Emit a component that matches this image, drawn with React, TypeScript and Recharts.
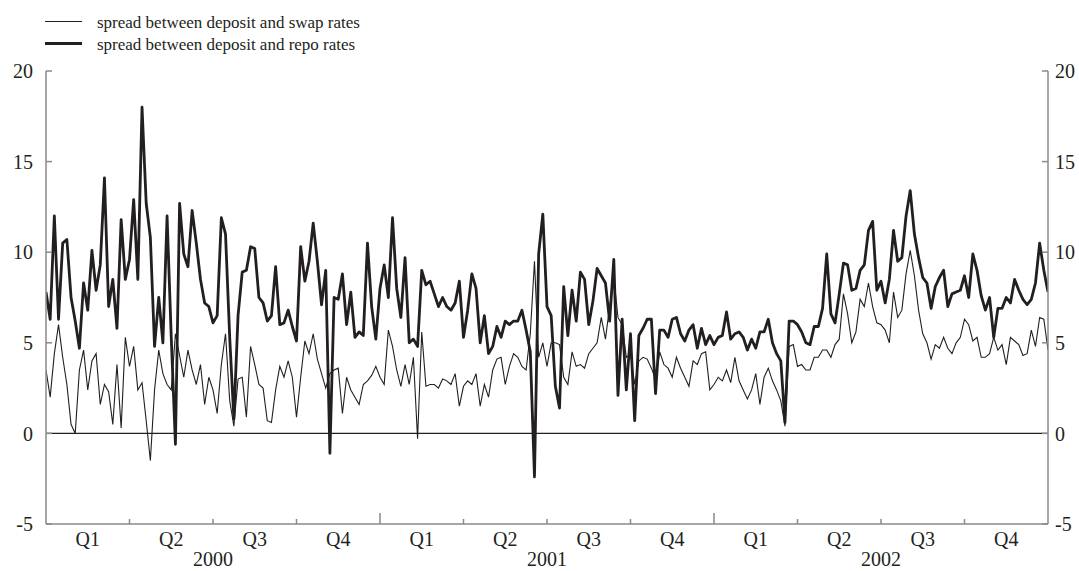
import React from 'react';
import { LineChart, Line, XAxis, YAxis, ReferenceLine } from 'recharts';

// roughly 20 readings per quarter, Q1 2000 .. Q4 2002 (241 points)
const swapSpread = [
  3.5, 2.0, 4.4, 6.0, 4.2, 2.7, 0.5, 0.0, 3.5, 4.6, 2.4, 4.0, 4.4, 1.6, 2.7, 2.3, 0.5, 3.8, 0.3, 5.3,
  3.7, 4.8, 2.4, 2.8, 0.7, -1.5, 2.4, 4.6, 3.3, 2.7, 2.4, 5.5, 4.3, 3.1, 4.6, 3.5, 2.7, 3.8, 1.6, 3.1,
  2.4, 1.1, 3.8, 5.5, 1.8, 0.4, 3.0, 3.1, 0.9, 4.8, 3.8, 2.7, 2.5, 0.7, 0.6, 2.4, 3.7, 3.1, 4.0, 3.1,
  0.9, 3.1, 5.1, 4.4, 5.5, 4.1, 3.3, 2.5, 3.3, 3.5, 3.6, 1.1, 3.1, 2.4, 2.0, 1.6, 2.7, 2.9,
  3.2, 3.7, 3.1, 2.7, 5.7, 4.8, 3.5, 2.6, 3.8, 2.7, 4.2, -0.3, 5.6, 2.6, 2.7, 2.7, 2.5, 3.0, 2.9, 2.7,
  3.3, 1.5, 2.6, 2.9, 2.7, 3.3, 1.5, 2.7, 2.0, 3.5, 4.1, 4.2, 2.7, 3.7, 4.4, 4.2, 3.7, 3.5,
  5.5, 9.5, 4.2, 5.0, 3.7, 5.0, 5.0, 4.9, 3.1, 2.7, 4.5, 3.7, 3.8, 3.6, 4.4, 4.7, 5.0, 6.4, 5.2, 7.0,
  8.6, 6.4, 6.0, 4.2, 4.4, 2.7, 4.0, 4.2, 4.1, 3.6, 3.0, 4.5, 3.8, 3.6, 3.1, 4.2, 3.6, 3.1, 2.6,
  4.0, 3.8, 4.4, 4.5, 2.4, 2.7, 3.1, 2.9, 3.5, 2.8, 4.2, 2.9, 2.4, 1.9, 2.4, 3.3, 1.6, 3.1, 3.6, 2.9,
  2.4, 1.8, 0.4, 4.8, 4.9, 3.7, 3.8, 3.5, 3.5, 4.2, 4.2, 4.6, 4.6, 4.2, 4.9, 5.2, 7.7, 6.6,
  5.0, 5.6, 7.4, 7.0, 8.3, 7.0, 6.1, 6.0, 5.7, 5.0, 7.8, 6.4, 6.8, 8.8, 10.1, 8.7, 6.8, 5.5, 5.0, 4.1,
  4.9, 4.7, 5.3, 4.7, 4.4, 5.0, 5.3, 6.3, 6.0, 5.1, 5.3, 4.2, 4.2, 4.4, 5.3, 4.6, 4.9, 3.8, 5.3, 5.1,
  4.9, 4.3, 4.4, 5.7, 4.8, 6.4, 6.3, 4.6,
];

const repoSpread = [
  7.8, 6.3, 12.0, 6.3, 10.5, 10.7, 7.5, 6.2, 4.7, 8.3, 6.8, 10.1, 7.9, 9.3, 14.1, 7.0, 8.5, 5.8, 11.8, 8.5,
  9.6, 12.9, 8.5, 18.0, 12.7, 10.8, 4.8, 7.5, 5.0, 12.0, 5.3, -0.6, 12.7, 9.9, 9.2, 12.3, 10.5, 8.5, 7.2, 7.0,
  6.1, 6.5, 11.9, 11.0, 5.3, 0.8, 6.5, 8.9, 9.0, 10.3, 10.2, 7.5, 7.2, 6.2, 6.5, 9.2, 6.0, 6.1, 6.8, 5.9,
  5.1, 10.3, 8.4, 9.5, 11.6, 9.5, 7.1, 9.0, -1.1, 7.5, 7.4, 8.8, 6.0, 7.8, 5.3, 5.6, 5.4, 10.5,
  7.0, 5.2, 8.0, 9.3, 7.5, 11.9, 8.0, 6.4, 9.7, 5.0, 5.2, 4.8, 9.0, 8.2, 8.4, 7.7, 7.0, 7.5, 7.0, 6.8,
  7.2, 8.4, 5.3, 6.8, 8.8, 8.0, 5.0, 6.5, 4.4, 4.8, 5.9, 5.3, 6.2, 6.0, 6.2, 6.2, 6.8, 5.7,
  4.5, -2.4, 9.9, 12.1, 7.0, 6.5, 2.6, 1.4, 8.1, 5.4, 7.9, 6.2, 8.9, 8.5, 6.0, 7.3, 9.1, 8.7, 8.3, 6.2,
  9.6, 2.1, 6.3, 2.4, 5.5, 0.7, 5.4, 5.8, 6.3, 6.3, 2.2, 5.7, 5.7, 5.3, 6.3, 6.4, 5.5, 5.1, 5.7,
  6.0, 4.7, 5.8, 4.9, 5.4, 4.9, 5.3, 5.4, 6.7, 5.2, 5.5, 5.6, 5.3, 4.6, 5.2, 4.7, 5.6, 5.6, 6.3, 5.0,
  4.4, 4.0, 0.6, 6.2, 6.2, 6.0, 5.6, 5.0, 4.9, 5.9, 5.9, 6.9, 9.9, 6.6, 6.1, 7.7, 9.4, 9.3,
  7.9, 8.0, 9.0, 9.3, 11.2, 11.7, 7.9, 8.4, 7.2, 8.5, 11.2, 9.5, 9.7, 12.0, 13.4, 11.0, 9.7, 8.6, 8.3, 6.9,
  8.1, 8.6, 9.0, 7.0, 7.7, 7.8, 7.9, 8.7, 7.5, 9.9, 9.0, 7.6, 6.8, 7.5, 5.3, 6.9, 6.9, 7.5, 7.2, 8.5,
  7.9, 7.4, 7.1, 7.4, 8.3, 10.5, 9.0, 7.8,
];

const seriesNames = ['spread between deposit and swap rates', 'spread between deposit and repo rates'];
const quarterLabels = ['Q1', 'Q2', 'Q3', 'Q4'];
const yearLabels = ['2000', '2001', '2002'];
const yTicks = [-5, 0, 5, 10, 15, 20];

const STEPS_PER_QUARTER = 20;
const LAST = yearLabels.length * 4 * STEPS_PER_QUARTER;

const data = repoSpread.map((repo, i) => ({ i, swap: swapSpread[i], repo }));

const quarterBounds: number[] = [];
const quarterMids: number[] = [];
for (let q = 0; q < yearLabels.length * 4; q++) {
  if (q > 0 && q % 4 !== 0) quarterBounds.push(q * STEPS_PER_QUARTER);
  quarterMids.push((q + 0.5) * STEPS_PER_QUARTER);
}
const yearBounds = yearLabels.slice(1).map((_, k) => (k + 1) * 4 * STEPS_PER_QUARTER);
const yearMids = yearLabels.map((_, k) => (k + 0.5) * 4 * STEPS_PER_QUARTER);

const INK = '#231f20';
const AXIS = '#8a8a8a';
const FONT = '"Liberation Serif", "Times New Roman", serif';
const tickText = { fill: INK, fontSize: 20, fontFamily: FONT };
// bottom axes are stacked; keep them (almost) zero-height so they all sit on the plot edge
const THIN = 0.01;

function Legend() {
  const rows = [
    { name: seriesNames[0], width: 1.2, top: 10.5 },
    { name: seriesNames[1], width: 3, top: 33 },
  ];
  return (
    <>
      {rows.map((r) => (
        <div key={r.name} style={{ position: 'absolute', left: 0, top: r.top, height: 23, width: 500 }}>
          <svg width={40} height={23} style={{ position: 'absolute', left: 45, top: 0 }}>
            <line x1={0} x2={37} y1={10.5} y2={10.5} stroke={INK} strokeWidth={r.width} />
          </svg>
          <span
            style={{
              position: 'absolute',
              left: 97,
              top: 0,
              lineHeight: '23px',
              fontSize: 17,
              fontFamily: FONT,
              color: INK,
              whiteSpace: 'nowrap',
            }}
          >
            {r.name}
          </span>
        </div>
      ))}
    </>
  );
}

export default function App() {
  return (
    <div style={{ position: 'absolute', left: 0, top: 0, width: 1079, height: 571, background: '#fff' }}>
      <LineChart
        width={1079}
        height={571}
        data={data}
        margin={{ top: 71, right: 0, bottom: 47 - 4 * THIN, left: 0 }}
      >
        <XAxis
          xAxisId="qt"
          dataKey="i"
          type="number"
          domain={[0, LAST]}
          allowDataOverflow
          ticks={quarterBounds}
          interval={0}
          height={THIN}
          tickFormatter={() => ''}
          tickSize={-5}
          tickLine={{ stroke: AXIS, strokeWidth: 1.5 }}
          axisLine={{ stroke: AXIS, strokeWidth: 1.5 }}
        />
        <XAxis
          xAxisId="yt"
          dataKey="i"
          type="number"
          domain={[0, LAST]}
          allowDataOverflow
          ticks={yearBounds}
          interval={0}
          height={THIN}
          tickFormatter={() => ''}
          tickSize={-11}
          tickLine={{ stroke: AXIS, strokeWidth: 1.5 }}
          axisLine={false}
        />
        <XAxis
          xAxisId="ql"
          dataKey="i"
          type="number"
          domain={[0, LAST]}
          allowDataOverflow
          ticks={quarterMids}
          interval={0}
          height={THIN}
          tickSize={0}
          tickMargin={8}
          tickLine={false}
          axisLine={false}
          tick={tickText}
          tickFormatter={(v: number) => quarterLabels[Math.floor(v / STEPS_PER_QUARTER) % 4]}
        />
        <XAxis
          xAxisId="yl"
          dataKey="i"
          type="number"
          domain={[0, LAST]}
          allowDataOverflow
          ticks={yearMids}
          interval={0}
          height={THIN}
          tickSize={0}
          tickMargin={28}
          tickLine={false}
          axisLine={false}
          tick={tickText}
          tickFormatter={(v: number) => yearLabels[Math.floor(v / (4 * STEPS_PER_QUARTER))]}
        />
        <YAxis
          yAxisId="left"
          domain={[-5, 20]}
          allowDataOverflow
          ticks={yTicks}
          interval={0}
          width={46}
          tickSize={-6}
          tickMargin={19}
          tick={tickText}
          tickLine={{ stroke: AXIS, strokeWidth: 1.5 }}
          axisLine={{ stroke: AXIS, strokeWidth: 1.5 }}
        />
        <YAxis
          yAxisId="right"
          orientation="right"
          domain={[-5, 20]}
          allowDataOverflow
          ticks={yTicks}
          interval={0}
          width={31}
          tickSize={-6}
          tickMargin={13}
          tick={tickText}
          tickLine={{ stroke: AXIS, strokeWidth: 1.5 }}
          axisLine={{ stroke: AXIS, strokeWidth: 1.5 }}
        />
        <ReferenceLine y={0} yAxisId="left" xAxisId="qt" stroke={INK} strokeWidth={1.2} />
        <Line
          xAxisId="qt"
          yAxisId="left"
          type="linear"
          dataKey="swap"
          stroke={INK}
          strokeWidth={1.1}
          dot={false}
          isAnimationActive={false}
        />
        <Line
          xAxisId="qt"
          yAxisId="left"
          type="linear"
          dataKey="repo"
          stroke={INK}
          strokeWidth={2.8}
          strokeLinejoin="round"
          dot={false}
          isAnimationActive={false}
        />
      </LineChart>
      <Legend />
    </div>
  );
}
